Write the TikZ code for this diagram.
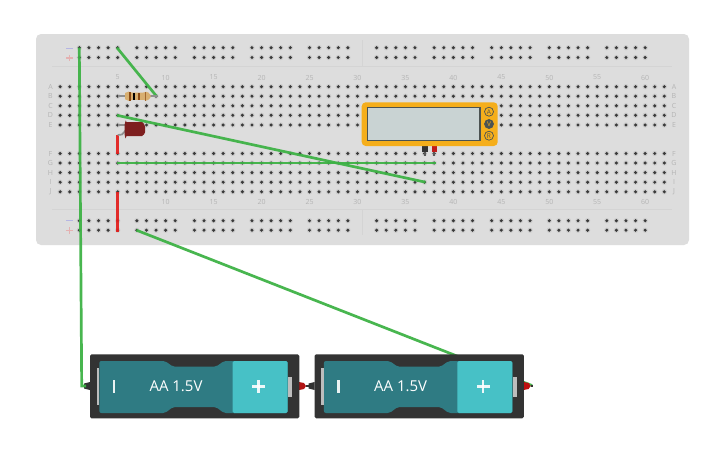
\documentclass[tikz,border=0pt]{standalone}
\usepackage{fontspec}
\setmainfont{Open Sans}
\definecolor{board}{HTML}{DDDDDD}
\definecolor{halo}{HTML}{CDCDCD}
\definecolor{holec}{HTML}{3A3A3A}
\definecolor{lab}{HTML}{B4B4B4}
\definecolor{grn}{HTML}{3DB245}
\definecolor{redw}{HTML}{E3211F}
\definecolor{teal}{HTML}{2F7B83}
\definecolor{tealL}{HTML}{47C1C6}
\definecolor{case}{HTML}{333333}
\definecolor{metal}{HTML}{BDBDBD}
\definecolor{amber}{HTML}{F5AE1B}
\definecolor{lcd}{HTML}{C9D3D3}
\definecolor{lcdb}{HTML}{4C5352}
\definecolor{ledc}{HTML}{7E1F1F}
\definecolor{tan}{HTML}{D8AF70}
\definecolor{bandb}{HTML}{8A4A14}
\definecolor{lead}{HTML}{8F8F8F}
\tikzset{
  wire/.style={draw=grn,line width=2.7pt,opacity=.94},
  redwire/.style={draw=redw,line width=2.7pt,opacity=.94},
  leadw/.style={draw=lead,line width=1.7pt},
  lbl/.style={text=lab,font=\fontsize{7}{7}\selectfont,inner sep=0pt},
  btn/.style={circle,draw=#1,line width=.7pt,minimum size=9pt,inner sep=0pt,font=\fontsize{6.5}{6}\selectfont,text=#1},
  battext/.style={text=white,inner sep=0pt}
}
\newcommand{\colx}[1]{(117.7+(#1-5)*9.59)}
\newcommand{\battery}[2]{%
  \begin{scope}[xshift=#1*1pt]
    \fill[case] (84,383.5) -- (90,382) -- (90,390) -- (84,388.5) -- cycle;
    \fill[#2] (299,382) -- (304,383) -- (306,386) -- (304,389) -- (299,390) -- cycle;
    \fill[case, rounded corners=1.5pt] (90,354.3) rectangle (299.3,418.3);
    \fill[teal, rounded corners=2pt] (99.3,361) -- (165,361) -- (173,366.7) -- (216,366.7) -- (224,361)
       -- (287.7,361) -- (287.7,413) -- (224,413) -- (216,407) -- (173,407) -- (165,413) -- (99.3,413) -- cycle;
    \fill[tealL, rounded corners=1.5pt] (232.7,361) -- (287.7,361) -- (287.7,413) -- (232.7,413) -- cycle;
    \fill[metal] (288,377) rectangle (292,396.7);
    \fill[metal] (96.7,368) rectangle (99.3,405);
    \node[battext,font=\fontsize{15}{15}\selectfont] at (176,386) {AA 1.5V};
    \fill[white,opacity=.9] (112.6,379.5) rectangle (115.4,392.5);
    \fill[white,opacity=.9] (252,385) rectangle (265,387.6);
    \fill[white,opacity=.9] (257.2,379.7) rectangle (259.8,392.9);
  \end{scope}}
\begin{document}
\begin{tikzpicture}[x=1pt,y=-1pt]
\useasboundingbox (0,0) rectangle (725,453);
\fill[white] (0,0) rectangle (725,453);
\fill[board,rounded corners=5pt] (36,34) rectangle (689,245);
% separators
\draw[draw=black!4!board,line width=.7pt] (52,66) -- (672,66) (52,209) -- (672,209);
\draw[draw=black!4!board,line width=.7pt] (362,40) -- (362,66) (362,209) -- (362,235);
% holes
\foreach \y in {86.7,96.2,105.8,115.3,125,153.5,163,172.6,182.2,191.8}{
  \foreach \c in {-1,...,62}{
    \fill[halo] ({\colx{\c}},\y) circle (2.7);
    \fill[holec] ({\colx{\c}},\y) circle (1.7);
}}
\foreach \y in {47.7,57.5,220.7,230.2}{
  \foreach \s in {1,7,13,19,25,32,38,44,50,56}{
    \foreach \d in {0,...,4}{
      \fill[halo] ({\colx{(\s+\d)}},\y) circle (2.7);
      \fill[holec] ({\colx{(\s+\d)}},\y) circle (1.7);
}}}
% labels
\foreach \n in {5,10,...,60}{
  \node[lbl] at ({\colx{\n}},77.5) {\n};
  \node[lbl] at ({\colx{\n}},202) {\n};
}
\foreach \l/\y in {A/86.7,B/96.2,C/105.8,D/115.3,E/125,F/153.5,G/163,H/172.6,I/182.2,J/191.8}{
  \node[lbl] at (50.5,\y) {\l};
  \node[lbl] at (674,\y) {\l};
}
\draw[draw=blue!18!board,line width=1.1pt] (66,48.3) -- (72.5,48.3) (66,220.7) -- (72.5,220.7);
\draw[draw=red!20!board,line width=1.1pt] (66,58) -- (72.5,58) (69.25,54.7) -- (69.25,61.3)
  (66,230.7) -- (72.5,230.7) (69.25,227.4) -- (69.25,234);
% coordinates for connector ends
\coordinate (railA) at (79.3,47.7);
\coordinate (railB) at (117,47.7);
\coordinate (resR) at (156.5,96.2);
\coordinate (resL) at (117.7,96.2);
\coordinate (rowD) at (117,115.3);
\coordinate (rowI) at (425.5,182.2);
\coordinate (rowG) at (117,163);
\coordinate (rowG2) at (436,163);
\coordinate (railP) at (136.5,230.2);
\coordinate (batPos) at (532,385.5);
\coordinate (batNeg) at (86,386);
\coordinate (batNegK) at (81.7,386);
\coordinate (ledA) at (117.7,135);
\coordinate (rowF) at (117.7,153.5);
\coordinate (rowJ) at (117.7,191.8);
\coordinate (railQ) at (117.7,231.5);
% green wire that runs under the second battery
\draw[wire] (railP) -- (batPos);
% batteries
\battery{0}{ledc!60!red}
\battery{224.6}{ledc!50!red}
\fill[case] (306,385) rectangle (310,387);
\fill[case] (530.6,385) rectangle (533,387);
% wires
\draw[wire] (railA) -- (batNegK) -- (batNeg);
\draw[wire] (railB) -- (resR);
\draw[wire] (rowG) -- (rowG2);
\draw[redwire] (ledA) -- (rowF);
\draw[redwire] (rowJ) -- (railQ);
% resistor
\draw[leadw] (resL) -- (resR);
\fill[tan] (125,93) .. controls (127,91) and (130,91.5) .. (132,92.6) -- (143,92.6)
   .. controls (145,91.3) and (148,91) .. (150.5,95) -- (150.5,97.4)
   .. controls (148,101.4) and (145,101) .. (143,99.8) -- (132,99.8)
   .. controls (130,101) and (127,101.4) .. (125,99.2) -- cycle;
\fill[bandb] (128.6,91.8) rectangle (130.8,100.6);
\fill[black] (132.5,92.6) rectangle (135,99.8);
\fill[bandb] (137.6,92.6) rectangle (140.3,99.8);
\fill[bandb!70!tan] (145,91.8) rectangle (146,100.6);
% LED
\draw[leadw] (117.7,125) -- (125,125);
\draw[leadw] (ledA) -- (122,134.5) -- (126,130);
\fill[ledc,rounded corners=3pt] (124.5,123) .. controls (125,122) and (128,122) .. (129,122)
   -- (139,122) .. controls (143,122) and (145,125.5) .. (145,129.3)
   .. controls (145,133.2) and (143,136) .. (139,136) -- (129,136)
   .. controls (128,136) and (125,137) .. (124.5,135.5) -- cycle;
% meter
\draw[black!65,line width=2pt] (424.7,148) -- (424.7,155.5) (434.4,148) -- (434.4,155.5);
\fill[case] (422,146) rectangle (427.5,151.5);
\fill[redw!85!black] (431.6,146) rectangle (437.2,151.5);
\fill[amber,rounded corners=4pt] (361.7,102.3) rectangle (497.7,146);
\draw[draw=lcdb,fill=lcd,line width=1.4pt] (367.2,107.7) rectangle (480,140.7);
\node[btn=lcdb] (btnA) at (489,111.7) {A};
\node[btn=lcdb,fill=lcdb,text=amber] (btnV) at (489,124) {V};
\node[btn=lcdb] (btnR) at (489,135.7) {R};
% long wire across the rows
\draw[wire] (rowD) -- (rowI);
\end{tikzpicture}
\end{document}
